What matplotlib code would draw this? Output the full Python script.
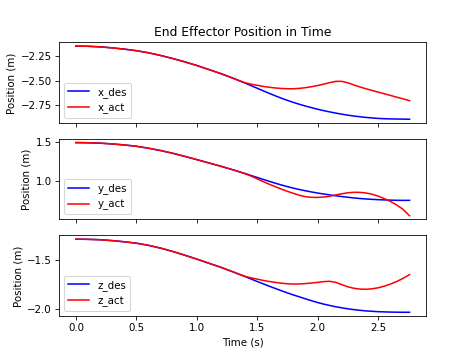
import matplotlib
matplotlib.use("Agg")
import matplotlib.pyplot as plt

# time samples (s), denser where the actual path leaves the desired one
time = [0.0, 0.1, 0.2, 0.3, 0.4, 0.5, 0.6, 0.7, 0.8, 0.9, 1.0, 1.1, 1.2,
        1.3, 1.35, 1.4, 1.45, 1.5, 1.55, 1.6, 1.65, 1.7, 1.75, 1.8, 1.85, 1.9, 1.95,
        2.0, 2.05, 2.1, 2.15, 2.2, 2.25, 2.3, 2.35, 2.4, 2.45, 2.5, 2.55, 2.6, 2.65,
        2.7, 2.76]

x_des = [-2.150, -2.152, -2.158, -2.168, -2.181, -2.197, -2.218, -2.245, -2.276, -2.310, -2.347, -2.388, -2.430,
         -2.476, -2.501, -2.526, -2.552, -2.578, -2.604, -2.630, -2.655, -2.679, -2.701, -2.722, -2.741, -2.759, -2.775,
         -2.791, -2.805, -2.818, -2.830, -2.841, -2.851, -2.860, -2.867, -2.874, -2.879, -2.884, -2.887, -2.889, -2.890,
         -2.891, -2.892]
x_act = [-2.150, -2.152, -2.158, -2.168, -2.181, -2.197, -2.218, -2.245, -2.276, -2.310, -2.347, -2.388, -2.430,
         -2.476, -2.500, -2.522, -2.537, -2.548, -2.559, -2.568, -2.575, -2.580, -2.583, -2.583, -2.579, -2.572, -2.562,
         -2.550, -2.536, -2.521, -2.508, -2.508, -2.523, -2.545, -2.565, -2.583, -2.600, -2.617, -2.633, -2.650, -2.667,
         -2.683, -2.704]

y_des = [1.492, 1.490, 1.485, 1.475, 1.462, 1.445, 1.420, 1.390, 1.355, 1.315, 1.273, 1.230, 1.187,
         1.141, 1.117, 1.093, 1.068, 1.043, 1.018, 0.993, 0.969, 0.946, 0.925, 0.905, 0.887, 0.871, 0.856,
         0.842, 0.830, 0.818, 0.807, 0.797, 0.788, 0.779, 0.772, 0.766, 0.761, 0.757, 0.754, 0.751, 0.749,
         0.748, 0.748]
y_act = [1.492, 1.490, 1.485, 1.475, 1.462, 1.445, 1.420, 1.390, 1.355, 1.315, 1.273, 1.230, 1.187,
         1.141, 1.117, 1.092, 1.060, 1.025, 0.990, 0.955, 0.924, 0.893, 0.864, 0.838, 0.813, 0.795, 0.787,
         0.786, 0.791, 0.801, 0.818, 0.833, 0.846, 0.852, 0.851, 0.843, 0.827, 0.803, 0.772, 0.735, 0.692,
         0.640, 0.550]

z_des = [-1.287, -1.289, -1.293, -1.302, -1.314, -1.328, -1.350, -1.378, -1.412, -1.450, -1.490, -1.532, -1.574,
         -1.620, -1.644, -1.668, -1.693, -1.718, -1.742, -1.766, -1.789, -1.812, -1.834, -1.855, -1.875, -1.895, -1.914,
         -1.932, -1.948, -1.962, -1.975, -1.986, -1.996, -2.004, -2.011, -2.017, -2.021, -2.025, -2.027, -2.029, -2.030,
         -2.031, -2.031]
z_act = [-1.287, -1.289, -1.293, -1.302, -1.314, -1.328, -1.350, -1.378, -1.412, -1.450, -1.490, -1.532, -1.574,
         -1.620, -1.644, -1.666, -1.681, -1.694, -1.707, -1.718, -1.727, -1.735, -1.741, -1.744, -1.743, -1.739, -1.733,
         -1.727, -1.719, -1.716, -1.727, -1.750, -1.772, -1.787, -1.795, -1.797, -1.792, -1.782, -1.766, -1.745, -1.720,
         -1.690, -1.648]

series = [("x", x_des, x_act), ("y", y_des, y_act), ("z", z_des, z_act)]


def main():
    fig, axes = plt.subplots(3, 1, sharex=True, figsize=(6.4, 4.8), dpi=74)

    for ax, (name, des, act) in zip(axes, series):
        ax.plot(time, des, color='b', label=f'{name}_des')
        ax.plot(time, act, color='r', label=f'{name}_act')
        ax.set_ylabel('Position (m)')
        ax.legend(loc='lower left')

    axes[0].set_title('End Effector Position in Time')
    axes[-1].set_xlabel('Time (s)')

    fig.savefig('out.png', dpi=74)


if __name__ == "__main__":
    main()
